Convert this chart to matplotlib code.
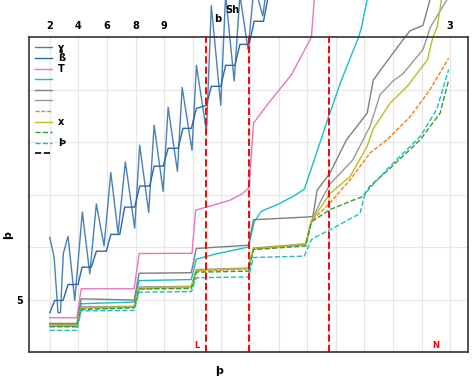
import matplotlib
matplotlib.use("Agg")
import matplotlib.pyplot as plt
from matplotlib.lines import Line2D

# series (x, y pairs)
zig_x = [2.0, 2.3, 2.58, 2.75, 2.95, 3.28, 3.75, 4.28, 4.8, 5.26, 5.8, 6.27, 6.78, 7.29, 7.94, 8.29, 8.92,
         9.3, 9.93, 10.28, 10.93, 11.26, 11.95, 12.26, 12.96, 13.3, 13.96, 14.3, 14.9, 15.3, 15.87, 16.3, 16.9, 17.2]
zig_y = [10.93, 9.1, 3.74, 3.74, 9.38, 11.03, 4.91, 13.34, 7.45, 14.1, 10.1, 17.1, 11.3, 18.1, 11.8, 19.7, 13.3,
         21.6, 15.3, 23.3, 17.2, 25.2, 19.2, 27.3, 21.0, 33.0, 23.5, 34.0, 25.8, 34.0, 28.8, 35.0, 32.0, 35.0]

stair_x = [2.0, 2.35, 2.93, 3.28, 3.98, 4.26, 4.91, 5.26, 5.96, 6.27, 6.9, 7.24, 7.94, 8.29, 8.99, 9.3, 9.93,
           10.28, 10.97, 11.32, 11.9, 12.26, 12.96, 13.3, 13.96, 14.3, 14.95, 15.3, 15.94, 16.3, 16.95, 17.3]
stair_y = [3.74, 4.91, 4.91, 6.43, 6.43, 8.08, 8.08, 9.6, 9.6, 11.2, 11.2, 13.8, 13.8, 15.8, 15.8, 17.7, 17.7,
           19.4, 19.4, 21.3, 21.3, 23.2, 23.5, 25.3, 25.3, 27.3, 27.3, 29.3, 29.3, 31.5, 31.5, 34.0]

pink_x = [2, 3.9, 4.2, 7.9, 8.25, 11.95, 12.2, 13.4, 14.6, 15.5, 15.95, 16.25, 17.3, 18.9, 20.3, 20.5]
pink_y = [3.26, 3.26, 6.02, 6.02, 9.38, 9.4, 13.5, 13.97, 14.45, 15.1, 15.7, 21.8, 23.7, 26.4, 30.0, 33.6]

cyan_x = [2, 3.9, 4.2, 7.9, 8.25, 11.9, 12.25, 13.5, 15.9, 16.3, 16.8, 18, 19, 19.8, 20.5, 21.5, 22.4, 23.6, 23.8, 24.2]
cyan_y = [2.45, 2.45, 4.6, 4.75, 6.8, 6.9, 8.84, 9.3, 10.0, 12.4, 13.4, 14.1, 14.8, 15.5, 18.3, 22.4, 25.9, 30.0, 30.9, 33.6]

gray1_x = [2, 3.9, 4.2, 7.9, 8.25, 11.9, 12.25, 15.9, 16.25, 19.9, 20.4, 20.7, 21.6, 22.75, 24.2, 24.63, 25.57,
           26.85, 27.2, 28.1, 28.6]
gray1_y = [2.72, 2.72, 5.07, 4.94, 7.5, 7.55, 9.86, 10.17, 12.6, 12.85, 12.9, 15.4, 17.05, 20.2, 22.75, 25.9, 27.66,
           30.0, 30.6, 31.1, 33.6]

steps_x = [2, 3.9, 4.2, 7.9, 8.25, 11.9, 12.25, 15.9, 16.25, 19.9, 20.3]

gray2_y0 = [2.6, 2.6, 4.3, 4.35, 6.2, 6.25, 7.85, 8.0, 9.9, 10.3, 12.5]
gray2_x1 = [21.0, 21.6, 23.2, 24.4, 25.1, 26.0, 26.7, 28.1, 28.4, 28.6, 29.8]
gray2_y1 = [14.5, 16.0, 18.3, 21.5, 24.5, 25.8, 26.5, 28.8, 30.0, 30.9, 33.6]

orange_y0 = [2.45, 2.45, 4.15, 4.25, 6.0, 6.15, 7.7, 7.9, 9.85, 10.25, 12.45]
orange_x1 = [21.6, 23.0, 24.4, 25.57, 27.2, 28.6, 29.9]
orange_y1 = [14.2, 16.4, 18.95, 20.2, 22.4, 25.0, 28.0]

olive_y0 = [2.53, 2.53, 4.2, 4.3, 6.1, 6.2, 7.75, 7.95, 9.8, 10.2, 12.45]
olive_x1 = [21.6, 23.0, 24.2, 24.6, 25.8, 27.0, 28.4, 28.8, 29.1, 29.4]
olive_y1 = [15.1, 16.7, 19.6, 21.2, 23.7, 25.3, 27.8, 30.0, 31.0, 33.6]

green_y0 = [2.4, 2.4, 4.05, 4.2, 6.0, 6.05, 7.6, 7.7, 9.75, 10.1, 12.4]
green_x1 = [21.6, 23.0, 23.9, 24.4, 25.8, 27.9, 29.3, 29.9]
green_y1 = [13.56, 14.35, 14.8, 15.8, 17.5, 20.2, 22.75, 25.9]

cyand_x = [2, 3.9, 4.2, 7.9, 8.25, 11.9, 12.25, 15.9, 16.25, 19.8, 20.3, 20.67, 22.07, 23.7, 24.05, 25.8, 27.9, 29.06, 29.9]
cyand_y = [2.06, 2.06, 3.93, 3.95, 5.7, 5.75, 7.07, 7.15, 9.0, 9.13, 10.7, 11.0, 11.98, 13.2, 15.1, 17.7, 20.5, 23.1, 26.9]

vlines = [12.95, 15.95, 21.5]
labels = ["ɣ", "ß", "T", " ", " ", " ", " ", "x", " ", "Þ", " "]
xtick_vals = list(range(2, 31, 2))
xtick_text = ["2", "4", "6", "8", "9"] + [""] * 9 + ["3"]

fig = plt.figure(figsize=(4.74, 3.8), dpi=100)
ax = fig.add_axes([29 / 474, 1 - 352 / 380, 439 / 474, 315 / 380])

kw = dict(lw=1.0, clip_on=False)
h = []
h += ax.plot(zig_x, zig_y, color="#4a80b8", **kw)
h += ax.plot(stair_x, stair_y, color="#2a66a8", **kw)
h += ax.plot(pink_x, pink_y, color="#e377c2", **kw)
h += ax.plot(cyan_x, cyan_y, color="#17becf", **kw)
h += ax.plot(gray1_x, gray1_y, color="#7f7f7f", **kw)
h += ax.plot(steps_x + gray2_x1, gray2_y0 + gray2_y1, color="#999999", **kw)
h += ax.plot(steps_x + orange_x1, orange_y0 + orange_y1, color="#ff7f0e", ls=(0, (3, 1.2)), **kw)
h += ax.plot(steps_x + olive_x1, olive_y0 + olive_y1, color="#bcbd22", **kw)
h += ax.plot(steps_x + green_x1, green_y0 + green_y1, color="#2ca02c", ls="--", **kw)
h += ax.plot(cyand_x, cyand_y, color="#17becf", ls="--", **kw)
h.append(Line2D([], [], color="black", ls="--", lw=1.2))

for v in vlines:
    ax.axvline(v, color="red", ls="--", lw=1.4)

ax.set_xlim(0.55, 31.25)
ax.set_ylim(0, 30)
ax.xaxis.tick_top()
ax.set_xticks(xtick_vals)
ax.set_xticklabels(xtick_text, fontsize=7, fontweight="bold")
ax.set_yticks([5, 10, 15, 20, 25])
ax.set_yticklabels(["5", "", "", "", ""], fontsize=7, fontweight="bold")
ax.tick_params(length=0, pad=4)
ax.grid(True, color="#e6e6e6", lw=0.8)
ax.set_axisbelow(True)
for s in ax.spines.values():
    s.set_color("#333333")
    s.set_linewidth(1.2)

ax.legend(h, labels, loc="upper left", frameon=False, prop=dict(size=7, weight="bold"),
          labelspacing=0.06, handlelength=1.8, handletextpad=0.6, borderaxespad=0.2)

ax.text(12.3, 0.2, "L", color="red", fontsize=6, fontweight="bold", ha="center", va="bottom")
ax.text(29.0, 0.2, "N", color="red", fontsize=6, fontweight="bold", ha="center", va="bottom")
fig.text(219 / 474, 1 - 371 / 380, "þ", fontsize=8, fontweight="bold", ha="center", va="center")
fig.text(8 / 474, 1 - 235 / 380, "þ", fontsize=8, fontweight="bold", ha="center", va="center", rotation=90)
fig.text(218 / 474, 1 - 19 / 380, "b", fontsize=7, fontweight="bold", ha="center", va="center")
fig.text(232 / 474, 1 - 10 / 380, "Sh", fontsize=7, fontweight="bold", ha="center", va="center")

fig.savefig("out.png", dpi=100)
